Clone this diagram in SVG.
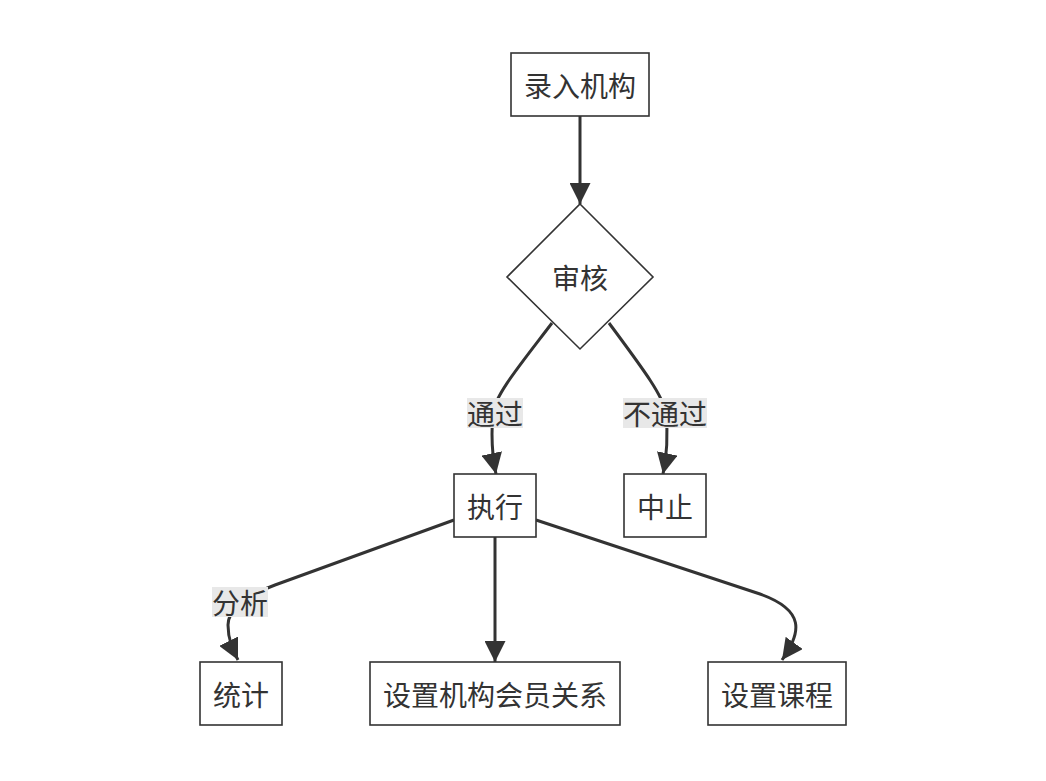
<svg xmlns="http://www.w3.org/2000/svg" width="1046" height="781" viewBox="0 0 1046 781">
<style>
.node rect,.node polygon{fill:#fff;stroke:#333;stroke-width:1.6}
.node text,.lbl text{font-family:"Noto Sans CJK SC","Liberation Sans",sans-serif;font-size:28px;fill:#333;text-anchor:middle;dominant-baseline:central}
.edges path{fill:none;stroke:#333;stroke-width:3;marker-end:url(#arr)}
.lbl rect{fill:#e8e8e8;stroke:none}
</style>
<defs>
<marker id="arr" viewBox="0 0 10 10" refX="10" refY="5" markerWidth="21" markerHeight="21" markerUnits="userSpaceOnUse" orient="auto">
<path d="M0,0 L10,5 L0,10 z" fill="#333"/>
</marker>
</defs>
<rect width="1046" height="781" fill="#fff"/>
<g class="edges">
<path d="M580,116 L580,204"/>
<path d="M552,323 C520,365 495,395 493,413 C491,435 492,455 496,474"/>
<path d="M609,323 C640,365 663,395 666,413 C668,435 667,455 663,474"/>
<path d="M454,520 L275,585 C245,596 228,610 228,625 C228,640 233,650 238,660"/>
<path d="M495,537 L495,662"/>
<path d="M536,520 L760,594 C805,610 802,632 782,660"/>
</g>
<g class="lbl" id="lbl-pass"><rect x="467" y="398" width="56" height="30"/><text x="495" y="413">通过</text></g>
<g class="lbl" id="lbl-fail"><rect x="623" y="398" width="84" height="30"/><text x="665" y="413">不通过</text></g>
<g class="lbl" id="lbl-analyze"><rect x="212" y="587" width="56" height="30"/><text x="240" y="602">分析</text></g>
<g class="node" id="n-input"><rect x="511" y="53" width="138" height="63"/><text x="580" y="85">录入机构</text></g>
<g class="node" id="n-review"><polygon points="580,204 653,277 580,349 507,277"/><text x="580" y="277">审核</text></g>
<g class="node" id="n-exec"><rect x="454" y="474" width="82" height="63"/><text x="495" y="506">执行</text></g>
<g class="node" id="n-stop"><rect x="624" y="474" width="82" height="63"/><text x="665" y="506">中止</text></g>
<g class="node" id="n-stat"><rect x="200" y="662" width="82" height="63"/><text x="241" y="694">统计</text></g>
<g class="node" id="n-member"><rect x="370" y="662" width="250" height="63"/><text x="495" y="694">设置机构会员关系</text></g>
<g class="node" id="n-course"><rect x="708" y="662" width="138" height="63"/><text x="777" y="694">设置课程</text></g>
</svg>
